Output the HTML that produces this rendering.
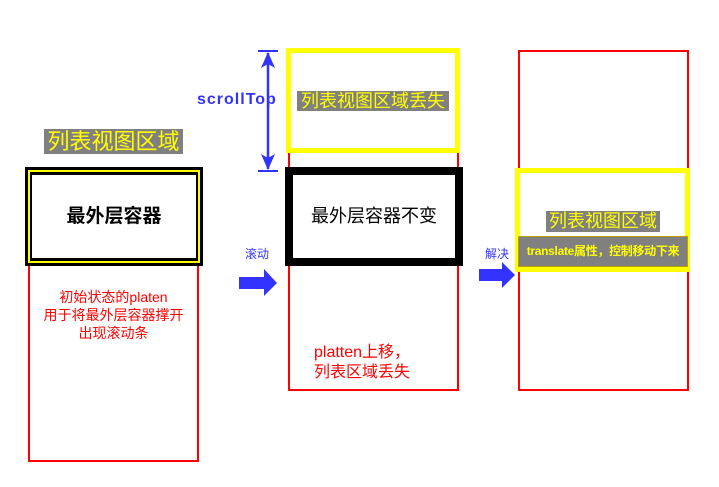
<!DOCTYPE html>
<html><head><meta charset="utf-8"><style>
body{margin:0;width:719px;height:487px;background:#fff;position:relative;overflow:hidden;font-family:"Liberation Sans","Noto Sans CJK SC",sans-serif}
div{position:absolute;box-sizing:border-box}
.lbl{background:#808080;color:#ff0;white-space:nowrap;line-height:1}
.red{color:#f00;font-size:14px;text-align:center;line-height:18px}
.blue{color:#33f;font-size:12px}
</style></head><body>
<!-- left -->
<div style="left:28px;top:170px;width:171px;height:292px;border:2px solid #f00"></div>
<div style="left:25px;top:167px;width:178px;height:99px;background:#000"></div>
<div style="left:28px;top:170px;width:172px;height:93px;border:2px solid #ff0;background:#000"></div>
<div style="left:32px;top:175px;width:164px;height:83px;background:#fff;font-weight:bold;font-size:19px;text-align:center;line-height:83px">最外层容器</div>
<div class="lbl" style="left:44px;top:129px;height:25px;width:139px;font-size:22px;line-height:25px;text-align:center">列表视图区域</div>
<div class="red" style="left:28px;top:288px;width:171px">初始状态的platen<br>用于将最外层容器撑开<br>出现滚动条</div>

<!-- middle -->
<div style="left:288px;top:150px;width:171px;height:241px;border:2px solid #f00"></div>
<div style="left:286px;top:48px;width:174px;height:105px;border:5px solid #ff0;background:#fff"></div>
<div class="lbl" style="left:297px;top:91px;width:152px;height:20px;font-size:18px;line-height:20px;text-align:center">列表视图区域丢失</div>
<div style="left:285px;top:167px;width:178px;height:99px;border:8px solid #000;background:#fff;font-size:18px;text-align:center;line-height:83px">最外层容器不变</div>
<div class="red" style="left:314px;top:343px;width:140px;text-align:left;font-size:16px;line-height:20px">platten上移，<br>列表区域丢失</div>
<svg style="position:absolute;left:0;top:0" width="719" height="487">
<line x1="258" y1="51" x2="278" y2="51" stroke="#33f" stroke-width="2"/>
<line x1="258" y1="171" x2="278" y2="171" stroke="#33f" stroke-width="2"/>
<line x1="268" y1="53" x2="268" y2="169" stroke="#33f" stroke-width="2.5"/>
<polygon points="268,52 261,68 268,64 275,68" fill="#33f"/>
<polygon points="268,170 261,154 268,158 275,154" fill="#33f"/>
<polygon points="239,277 264,277 264,269 277,283 264,296 264,289 239,289" fill="#33f"/>
<polygon points="479,269 502,269 502,262 515,275 502,288 502,281 479,281" fill="#33f"/>
</svg>
<div style="left:197px;top:91px;color:#33f;font-weight:bold;font-size:16px;letter-spacing:1px">scrollTop</div>
<div class="blue" style="left:245px;top:245px">滚动</div>

<!-- right -->
<div style="left:518px;top:50px;width:171px;height:341px;border:2px solid #f00"></div>
<div style="left:515px;top:168px;width:175px;height:104px;border:5px solid #ff0"></div>
<div class="lbl" style="left:546px;top:211px;width:114px;height:21px;font-size:18px;line-height:21px;text-align:center">列表视图区域</div>
<div class="lbl" style="left:518px;top:236px;width:170px;height:31px;border:1px solid #b8a000;font-size:12px;font-weight:bold;line-height:29px;text-align:center;letter-spacing:-0.3px">translate属性，控制移动下来</div>
<div class="blue" style="left:485px;top:245px">解决</div>
</body></html>
